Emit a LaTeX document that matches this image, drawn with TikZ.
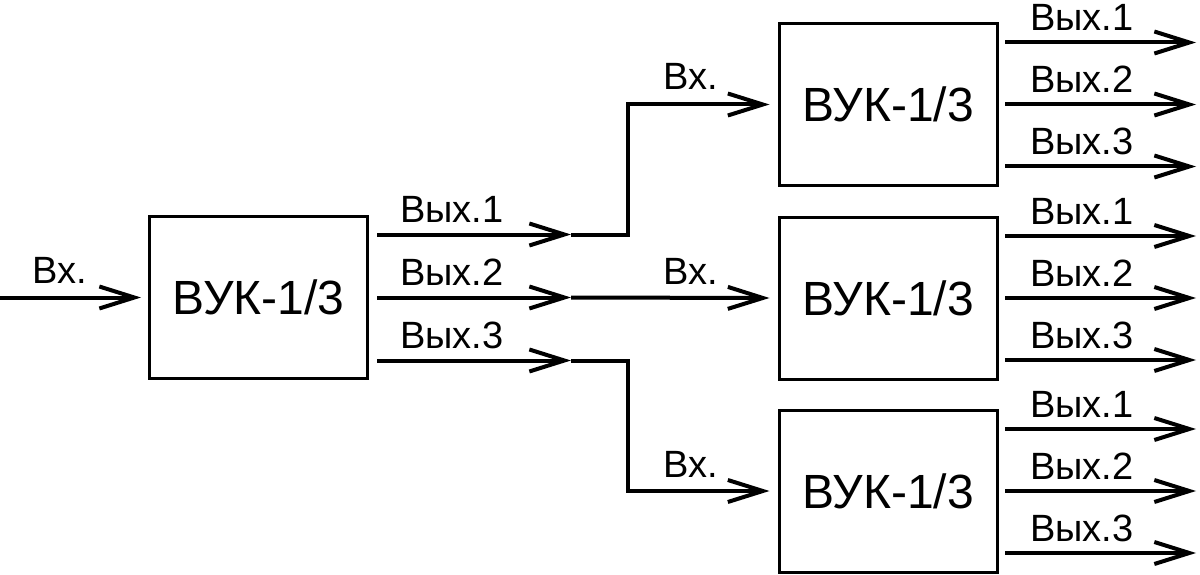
\documentclass[tikz,border=0pt]{standalone}
\usepackage{fontspec}
\setmainfont{Liberation Sans}
\usetikzlibrary{arrows.meta}
\tikzset{
  vukbox/.style={draw, line width=3pt, minimum width=218pt, minimum height=162pt, inner sep=0pt, font=\fontsize{48}{52}\selectfont},
  sig/.style={line width=4pt, -{Straight Barb[length=35pt,width=22pt]}},
  lbl/.style={anchor=base west, inner sep=0pt, font=\fontsize{38}{42}\selectfont},
}
\begin{document}
\begin{tikzpicture}[x=1pt,y=1pt,yscale=-1,xscale=1]
\useasboundingbox (0,0) rectangle (1200,575);

%Shape: splitter boxes
\node[vukbox] (main) at (258.5,297.5) {ВУК-1/3};
\node[vukbox] (vukA) at (888,104.5) {ВУК-1/3};
\node[vukbox] (vukB) at (888,298) {ВУК-1/3};
\node[vukbox] (vukC) at (888,491) {ВУК-1/3};

%Straight Lines: input of the first splitter
\coordinate (in) at (0,297.5);
\draw[sig] (in) -- ([xshift=-7pt]main.west);
\node[lbl] (inlbl) at (32,283) {Вх.};

%Straight Lines: outputs of the first splitter
\foreach \k/\y in {1/234.5,2/297.5,3/360.5} {
  \coordinate (o\k) at (377,\y);
  \coordinate (j\k) at (571,\y);
  \draw[sig] (o\k) -- (j\k);
  \node[lbl] (lo\k) at (400,{\y-12}) {Вых.\k};
}

%Straight Lines: links to the second stage
\coordinate (bendA) at (628,234.5);
\coordinate (bendC) at (628,360.5);
\draw[sig] (j1) -- (bendA) |- ([xshift=-8pt]vukA.west);
\draw[sig] (j2) -- ([xshift=-8pt]vukB.west);
\draw[sig] (j3) -- (bendC) |- ([xshift=-8pt]vukC.west);

% Text Node
\node[lbl] (inA) at (663,90) {Вх.};
\node[lbl] (inB) at (663,284) {Вх.};
\node[lbl] (inC) at (663,477) {Вх.};

%Straight Lines: outputs of the second stage
\foreach \b/\cy in {vukA/104.5,vukB/298,vukC/491} {
  \foreach \k/\dy in {1/-62,2/0,3/62} {
    \coordinate (\b s\k) at (1005,{\cy+\dy});
    \coordinate (\b e\k) at (1196,{\cy+\dy});
    \draw[sig] (\b s\k) -- (\b e\k);
    \node[lbl] (\b l\k) at (1030,{\cy+\dy-12}) {Вых.\k};
  }
}

\end{tikzpicture}
\end{document}
